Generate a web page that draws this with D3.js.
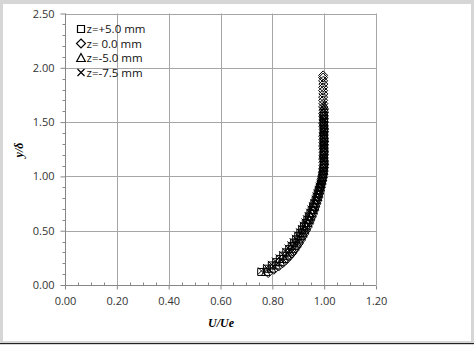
<!DOCTYPE html>
<html><head><meta charset="utf-8">
<script src="https://cdn.jsdelivr.net/npm/d3@7"></script>
<style>html,body{margin:0;padding:0;background:#fff;}svg{display:block;}</style>
</head><body>
<svg id="chart" width="474" height="345"></svg>
<script>
const xTicks = [0, 0.2, 0.4, 0.6, 0.8, 1.0, 1.2];
const yTicks = [0, 0.5, 1.0, 1.5, 2.0, 2.5];
const seriesNames = ["z=+5.0 mm", "z= 0.0 mm", "z=-5.0 mm", "z=-7.5 mm"];
const seriesSymbols = ["square", "diamond", "triangle", "cross"];

// z=+5.0 mm
const sqY = [0.12,0.15,0.18,0.21,0.24,0.27,0.30,0.33,0.36,0.39,0.42,0.45,0.48,0.51,0.54,0.57,0.60,0.63,0.66,0.69,0.72,0.75,0.78,0.81,0.84,0.87,0.90,0.93,0.96,0.99,1.02,1.05,1.08,1.11,1.14,1.17,1.20,1.23,1.26,1.29,1.32,1.35,1.38,1.41,1.44,1.47,1.50,1.53,1.56];
const sqU = [0.757,0.779,0.798,0.815,0.829,0.842,0.854,0.865,0.875,0.884,0.892,0.900,0.908,0.915,0.922,0.929,0.935,0.941,0.947,0.952,0.957,0.962,0.967,0.971,0.975,0.979,0.983,0.987,0.990,0.993,0.995,0.997,0.998,0.999,1.000,0.999,0.998,0.999,1.000,0.999,0.998,0.999,0.999,1.000,0.999,0.998,0.999,0.999,0.998];
// z= 0.0 mm
const diY = [0.11,0.14,0.17,0.20,0.23,0.26,0.29,0.32,0.35,0.38,0.41,0.44,0.47,0.50,0.53,0.56,0.59,0.62,0.65,0.68,0.71,0.74,0.77,0.80,0.83,0.86,0.89,0.92,0.95,0.98,1.01,1.04,1.07,1.10,1.13,1.16,1.19,1.22,1.25,1.28,1.31,1.34,1.37,1.40,1.43,1.46,1.49,1.52,1.55,1.58,1.61,1.64,1.67,1.70,1.73,1.76,1.79,1.82,1.85,1.88,1.91,1.93];
const diU = [0.784,0.806,0.824,0.840,0.853,0.865,0.876,0.885,0.894,0.902,0.909,0.916,0.923,0.929,0.935,0.940,0.945,0.950,0.955,0.959,0.963,0.967,0.971,0.975,0.978,0.981,0.984,0.987,0.990,0.992,0.994,0.995,0.996,0.997,0.997,0.996,0.997,0.998,0.997,0.996,0.997,0.997,0.996,0.997,0.998,0.997,0.996,0.997,0.997,0.996,0.997,0.996,0.997,0.996,0.996,0.997,0.996,0.996,0.997,0.996,0.996,0.996];
// z=-5.0 mm
const trY = [0.12,0.15,0.18,0.21,0.24,0.27,0.30,0.33,0.36,0.39,0.42,0.45,0.48,0.51,0.54,0.57,0.60,0.63,0.66,0.69,0.72,0.75,0.78,0.81,0.84,0.87,0.90,0.93,0.96,0.99,1.02,1.05,1.08,1.11,1.14,1.17,1.20,1.23,1.26,1.29,1.32,1.35,1.38,1.41,1.44,1.47,1.50,1.53,1.56,1.59,1.62,1.65];
const trU = [0.775,0.797,0.815,0.831,0.845,0.857,0.868,0.878,0.887,0.896,0.903,0.911,0.918,0.925,0.931,0.937,0.943,0.948,0.953,0.958,0.963,0.967,0.971,0.975,0.979,0.982,0.985,0.988,0.991,0.994,0.996,0.998,0.999,1.000,1.001,1.000,0.999,1.000,1.000,0.999,1.000,1.001,1.000,0.999,1.000,1.000,0.999,1.000,1.000,0.999,1.000,1.000];
// z=-7.5 mm
const xxY = [0.13,0.16,0.19,0.22,0.25,0.28,0.31,0.34,0.37,0.40,0.43,0.46,0.49,0.52,0.55,0.58,0.61,0.64,0.67,0.70,0.73,0.76,0.79,0.82,0.85,0.88,0.91,0.94,0.97,1.00,1.03,1.06,1.09,1.12,1.15,1.18,1.21,1.24,1.27,1.30,1.33,1.36,1.39,1.42,1.45,1.48,1.52];
const xxU = [0.758,0.778,0.796,0.812,0.826,0.839,0.851,0.861,0.871,0.880,0.889,0.897,0.905,0.912,0.919,0.926,0.932,0.938,0.944,0.949,0.955,0.960,0.965,0.969,0.973,0.977,0.981,0.985,0.988,0.991,0.994,0.996,0.998,0.998,0.999,1.000,0.999,0.998,0.999,1.000,0.999,0.998,0.999,0.999,1.000,0.999,0.998];

const seriesY = [sqY, diY, trY, xxY];
const seriesU = [sqU, diU, trU, xxU];

const svg = d3.select("#chart");
const W = 474, H = 345;

// frame
svg.append("rect").attr("x",0).attr("y",0).attr("width",W).attr("height",H).attr("fill","#d6d6d6");
svg.append("rect").attr("x",3).attr("y",4).attr("width",468).attr("height",337).attr("fill","#ffffff");
svg.append("line").attr("x1",0).attr("x2",W).attr("y1",343.5).attr("y2",343.5).attr("stroke","#222").attr("stroke-width",1.2);

const x = d3.scaleLinear().domain([0, 1.2]).range([65, 376]);
const y = d3.scaleLinear().domain([0, 2.5]).range([285, 13.5]);

const gridColor = "#a6a6a6";
const axisColor = "#868686";
const g = svg.append("g");

// grid
g.selectAll("line.vg").data(xTicks.slice(1)).enter().append("line")
  .attr("x1", d => Math.round(x(d))+0.5).attr("x2", d => Math.round(x(d))+0.5)
  .attr("y1", y(0)).attr("y2", y(2.5)).attr("stroke", gridColor).attr("stroke-width",1);
g.selectAll("line.hg").data(yTicks.slice(1)).enter().append("line")
  .attr("x1", x(0)).attr("x2", x(1.2))
  .attr("y1", d => Math.round(y(d))+0.5).attr("y2", d => Math.round(y(d))+0.5)
  .attr("stroke", gridColor).attr("stroke-width",1);

// axes
const xAxis = d3.axisBottom(x).tickValues(xTicks).tickFormat(d3.format(".2f")).tickSize(4).tickPadding(8);
const yAxis = d3.axisLeft(y).tickValues(yTicks).tickFormat(d3.format(".2f")).tickSize(5).tickPadding(6);

const gx = svg.append("g").attr("transform", `translate(0,${Math.round(y(0))+0.5})`).call(xAxis);
const gy = svg.append("g").attr("transform", `translate(${Math.round(x(0))+0.5},0)`).call(yAxis);
[gx, gy].forEach(a => {
  a.select(".domain").attr("stroke", axisColor);
  a.selectAll(".tick line").attr("stroke", axisColor);
  a.selectAll(".tick text").attr("fill", "#333").style("font-family", "'Open Sans', 'Liberation Sans', sans-serif").style("font-size", "11px");
});
gx.select(".domain").attr("d", `M${x(0)},0H${x(1.2)}`);
gy.select(".domain").attr("d", `M0,${y(0)}V${y(2.5)}`);

// minor ticks
const xMinor = d3.range(0, 1.2001, 0.05).filter(v => Math.abs(v*5 - Math.round(v*5)) > 1e-6);
svg.append("g").selectAll("line").data(xMinor).enter().append("line")
  .attr("x1", d => Math.round(x(d))+0.5).attr("x2", d => Math.round(x(d))+0.5)
  .attr("y1", Math.round(y(0))+0.5).attr("y2", Math.round(y(0))-2.5)
  .attr("stroke", axisColor);
const yMinor = d3.range(0, 2.5001, 0.1).filter(v => Math.abs(v*2 - Math.round(v*2)) > 1e-6);
svg.append("g").selectAll("line").data(yMinor).enter().append("line")
  .attr("x1", Math.round(x(0))+0.5).attr("x2", Math.round(x(0))-2.5)
  .attr("y1", d => Math.round(y(d))+0.5).attr("y2", d => Math.round(y(d))+0.5)
  .attr("stroke", axisColor);

// symbols
const symPaths = {
  square: "M-3.5,-3.5H3.5V3.5H-3.5Z",
  diamond: "M0,-4.5L4.5,0L0,4.5L-4.5,0Z",
  triangle: "M0,-4.5L4.3,3.5L-4.3,3.5Z",
  cross: "M-3.5,-3.5L3.5,3.5M-3.5,3.5L3.5,-3.5"
};

seriesY.forEach((ys, si) => {
  const us = seriesU[si];
  const pts = ys.map((v, i) => ({u: us[i], y: v}));
  svg.append("g").selectAll("path").data(pts).enter().append("path")
    .attr("d", symPaths[seriesSymbols[si]])
    .attr("transform", d => `translate(${x(d.u)},${y(d.y)})`)
    .attr("fill", "none").attr("stroke", "#000").attr("stroke-width", 1);
});

// legend
const legY = [29, 43.5, 58, 72.5];
const leg = svg.append("g");
seriesNames.forEach((name, i) => {
  leg.append("path").attr("d", symPaths[seriesSymbols[i]])
    .attr("transform", `translate(81,${legY[i]})`)
    .attr("fill","none").attr("stroke","#000").attr("stroke-width",1.2);
  leg.append("text").attr("x", 86.5).attr("y", legY[i]).attr("dy","0.35em")
    .style("font-family","'Open Sans', 'Liberation Sans', sans-serif").style("font-size","11.5px")
    .attr("fill","#111").text(name);
});

// axis titles
svg.append("text").attr("x", 221).attr("y", 327).attr("text-anchor","middle")
  .style("font-family","'Liberation Serif', 'DejaVu Serif', serif").style("font-size","12px")
  .style("font-weight","bold").style("font-style","italic").text("U/Ue");
svg.append("text").attr("transform","translate(23,150) rotate(-90)").attr("text-anchor","middle")
  .style("font-family","'Liberation Serif', 'DejaVu Serif', serif").style("font-size","12px")
  .style("font-weight","bold").style("font-style","italic").text("y/δ");
</script>
</body></html>
